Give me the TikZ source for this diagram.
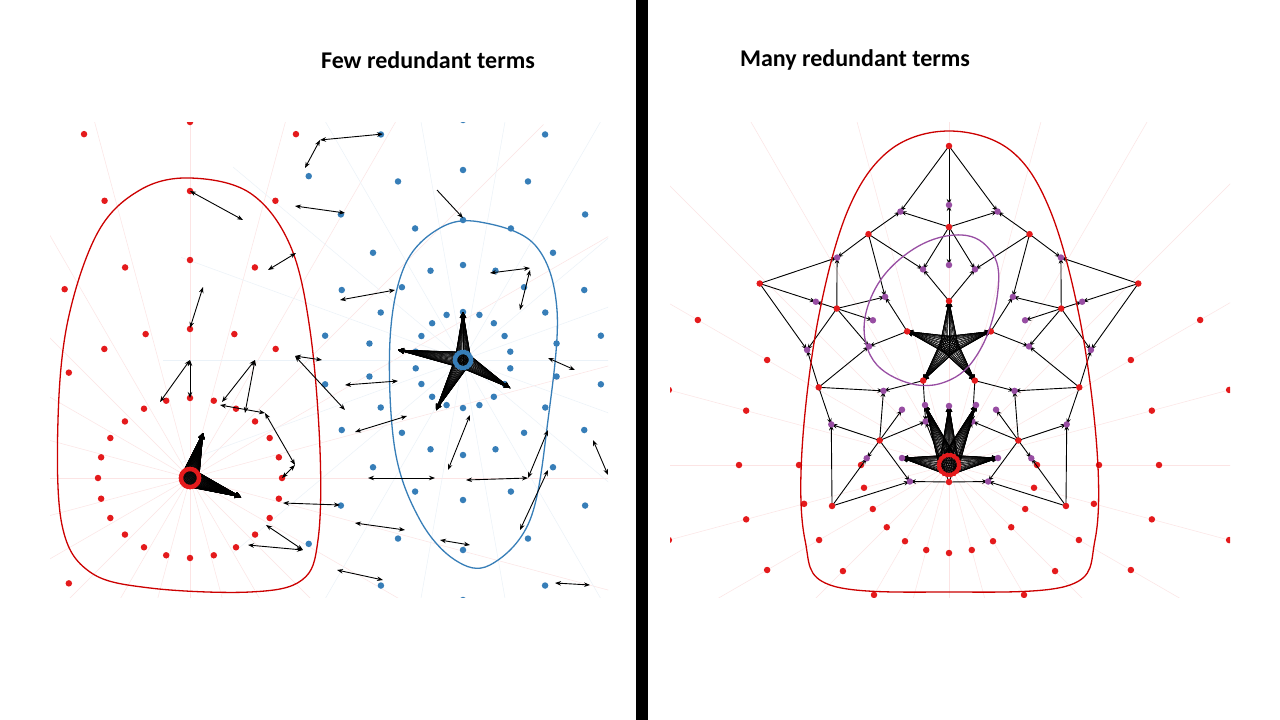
\documentclass[tikz,border=0pt]{standalone}
\usepackage{fontspec}
\setmainfont{Carlito}
\usetikzlibrary{arrows.meta,calc}
\definecolor{rd}{HTML}{E41A1C}
\definecolor{bl}{HTML}{377EB8}
\definecolor{pu}{HTML}{984EA3}
\definecolor{cr}{HTML}{CC0000}
\tikzset{x=1pt,y=-1pt,
 rdot/.style={circle,fill=rd,inner sep=0,minimum size=6.5pt},
 bdot/.style={circle,fill=bl,inner sep=0,minimum size=6.5pt},
 pdot/.style={circle,fill=pu,inner sep=0,minimum size=6.5pt},
 spoke/.style={draw=rd!12,line width=0.5pt},
 arr/.style={-{Stealth[length=6pt,width=4.5pt]},line width=0.9pt},
 barr/.style={{Stealth[length=6pt,width=4.5pt]}-{Stealth[length=6pt,width=4.5pt]},line width=0.9pt},
 title/.style={font=\bfseries\fontsize{24}{28}\selectfont}}
\begin{document}
\begin{tikzpicture}
\useasboundingbox (0,0) rectangle (1280,720);
\fill[white] (0,0) rectangle (1280,720);
\fill[black] (636,0) rectangle (648,720);
\node[title] (t1) at (428,60) {Few redundant terms};
\node[title] (t2) at (855,60) {Many redundant terms};
% left panel
\begin{scope}
\clip (50,122) rectangle (608,597);
\foreach \a in {0,15,...,345} \draw[spoke] (190,478) -- ++(\a:500);
\foreach \a in {0,20,...,340} \draw[spoke,draw=bl!10] (463,360) -- ++(\a:300);
\foreach \r in {80,149,218,287,356} \foreach \a in {0,15,...,345}{
  \pgfmathtruncatemacro{\ok}{(190+1.15*\r*cos(\a))<300 ? 1 : 0}\ifnum\ok=1 \node[rdot] at ($(190,478)+({1.15*\r*cos(\a)},{\r*sin(\a)})$) {};\fi}
\foreach \r in {48,95,140,190,240} \foreach \a in {10,30,...,350}{
  \pgfmathtruncatemacro{\ok}{(463+\r*cos(\a))>300 ? 1 : 0}\ifnum\ok=1 \node[bdot] at ($(463,360)+(\a:\r)$) {};\fi}
\draw[cr,line width=1.3pt] plot[smooth cycle,tension=0.6] coordinates {(190,178)(250,193)(290,245)(310,330)(320,450)(318,540)(302,580)(250,592)(150,588)(90,572)(62,525)(58,420)(68,320)(98,232)(140,190)};
\draw[bl,line width=1.3pt] plot[smooth cycle,tension=0.6] coordinates {(480,222)(535,245)(557,310)(548,420)(530,520)(490,565)(455,560)(420,520)(395,450)(390,340)(405,265)(440,228)};
\foreach \xa/\ya/\xb/\yb in {320/140/383/134,305/168/320/140,190/191/243/220,295/206/345/213,268/270/296/253,203/287/190/328,190/360/160/402,190/360/190/398,255/360/222/402,255/360/245/413,220/405/265/413,265/413/295/465,295/356/345/410,295/356/322/360,340/300/395/290,345/385/398/381,355/432/407/416,368/478/435/478,448/470/470/415,466/480/528/478,575/370/548/358,593/440/608/475,266/525/303/550,248/545/303/550,337/570/383/580,355/523/405/530,555/583/590/585,490/273/530/268,283/503/340/505,282/478/295/465,530/270/520/310,548/430/528/478,548/470/520/530,440/540/470/545}
 \draw[barr] (\xa,\ya) -- (\xb,\yb);
\foreach \a in {0,5,...,355} \draw[arr,line width=0.5pt] ($(190,478)+(\a:9)$) -- (203,433);
\foreach \a in {0,5,...,355} \draw[arr,line width=0.5pt] ($(190,478)+(\a:9)$) -- (241,497);
\foreach \a in {0,15,...,345} \node[rdot,minimum size=5pt] at ($(190,478)+(\a:9)$) {};
\foreach \tx/\ty in {398/350,463/312,510/388,436/410} \foreach \a in {0,10,...,350}
  \draw[arr,line width=0.5pt] ($(463,360)+(\a:8)$) -- (\tx,\ty);
\foreach \a in {0,20,...,340} \node[bdot,minimum size=5pt] at ($(463,360)+(\a:8)$) {};
\draw[arr] (437,190) -- (463,218);
\end{scope}
% right panel
\begin{scope}
\clip (670,122) rectangle (1230,597);
\foreach \a in {0,15,...,345} \draw[spoke] (949,465) -- ++(\a:500);
\foreach \r in {88,150} \foreach \a in {0,15,...,180}
  \node[rdot] at ($(949,465)+(\a:\r)$) {};
\foreach \r in {210,290} \foreach \a in {0,15,...,180,195,210,330,345}
  \node[rdot] at ($(949,465)+(\a:\r)$) {};
\foreach \a in {195,210,330,345} \node[rdot] at ($(949,465)+(\a:380)$) {};
\coordinate (C) at (949,345);
\foreach \k in {0,...,4} {
  \pgfmathsetmacro{\f}{-90+72*\k}
  \coordinate (r1\k) at ($(C)+(\f:44)$);
  \coordinate (p1\k) at ($(C)+(\f:80)$);
  \coordinate (p1a\k) at ($(C)+(\f-19:80)$);
  \coordinate (p1b\k) at ($(C)+(\f+19:80)$);
  \coordinate (r2\k) at ($(C)+(\f:118)$);
  \coordinate (p2\k) at ($(C)+(\f:140)$);
  \coordinate (r3\k) at ($(C)+(\f:199)$);
  \coordinate (p3a\k) at ($(C)+(\f-20:142)$);
  \coordinate (p3b\k) at ($(C)+(\f+20:142)$);
  \coordinate (r4\k) at ($(C)+(\f+36:137)$);
}
\foreach \k [evaluate=\k as \n using {int(mod(\k+1,5))}] in {0,...,4} {
  \draw[arr] (r2\k) -- (p1\k); \draw[arr] (r2\k) -- (p1a\k); \draw[arr] (r2\k) -- (p1b\k);
  \draw[arr] (r2\k) -- (p2\k); \draw[arr] (r3\k) -- (p2\k);
  \draw[arr] (r2\k) -- (p3a\k); \draw[arr] (r2\k) -- (p3b\k);
  \draw[arr] (r4\k) -- (p3b\k); \draw[arr] (r4\k) -- (p3a\n);
  \draw[arr] (r4\k) -- (p1b\k); \draw[arr] (r4\k) -- (p1a\n);
  \draw[arr] (r1\k) -- (p1b\k); \draw[arr] (r1\k) -- (p1a\k);
  \draw[arr] (r3\k) -- (p3a\k); \draw[arr] (r3\k) -- (p3b\k);
}
\foreach \k in {0,...,4} \foreach \a in {0,15,...,345}
  \draw[arr,line width=0.5pt] ($(C)+(\a:9)$) -- (r1\k);
\foreach \k in {0,...,4} {\node[rdot] at (r1\k) {}; \node[pdot] at (p1\k) {}; \node[pdot] at (p1a\k) {}; \node[pdot] at (p1b\k) {};
  \node[rdot] at (r2\k) {}; \node[pdot] at (p2\k) {}; \node[rdot] at (r3\k) {}; \node[pdot] at (p3a\k) {}; \node[pdot] at (p3b\k) {}; \node[rdot] at (r4\k) {};}
\foreach \tx/\ty in {925/405,949/406,976/405,902/458,998/458} {
  \foreach \a in {0,12,...,348} \draw[arr,line width=0.5pt] ($(949,465)+(\a:10)$) -- (\tx,\ty);
  \node[pdot] at (\tx,\ty) {};}
\foreach \a in {0,20,...,340} \node[rdot,minimum size=5pt] at ($(949,465)+(\a:10)$) {};
\draw[cr,line width=1.3pt] plot[smooth cycle,tension=0.6] coordinates {(949,131)(1010,150)(1050,210)(1080,320)(1097,450)(1095,540)(1070,585)(949,592)(830,585)(805,540)(802,450)(818,320)(848,210)(890,150)};
\draw[pu,line width=1.3pt] plot[smooth cycle,tension=0.7] coordinates {(955,235)(990,250)(998,290)(980,350)(945,382)(900,380)(868,350)(870,300)(905,255)};
\end{scope}
\end{tikzpicture}
\end{document}
